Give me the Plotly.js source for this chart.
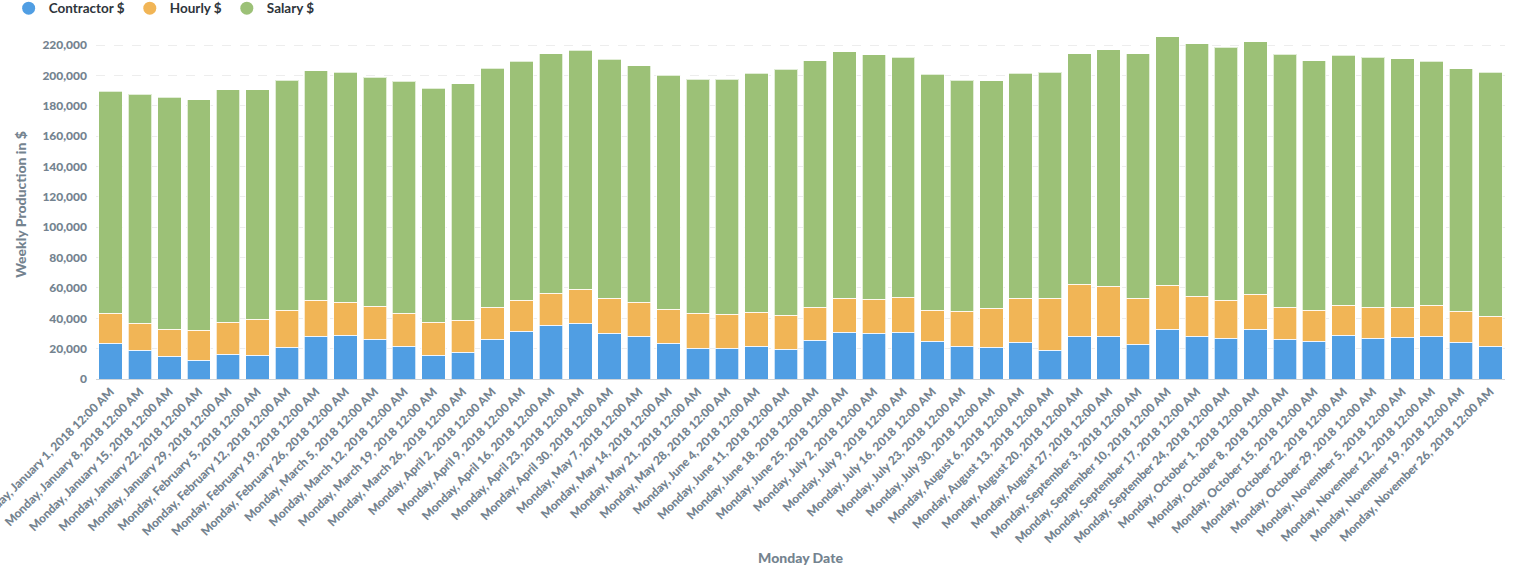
<!DOCTYPE html>
<html>
<head>
<meta charset="utf-8">
<script src="https://cdn.plot.ly/plotly-3.0.1.min.js"></script>
<style>
  html, body { margin: 0; padding: 0; background: #fff; }
  #plot { width: 1514px; height: 574px; }
</style>
</head>
<body>
<div id="plot"></div>
<script>
(function () {
  "use strict";

  // Mondays of 2018, Jan 1 .. Nov 26
  const weekMonths = [
    "January", "January", "January", "January", "January",
    "February", "February", "February", "February",
    "March", "March", "March", "March",
    "April", "April", "April", "April", "April",
    "May", "May", "May", "May",
    "June", "June", "June", "June",
    "July", "July", "July", "July", "July",
    "August", "August", "August", "August",
    "September", "September", "September", "September",
    "October", "October", "October", "October", "October",
    "November", "November", "November", "November",
  ];
  const weekDays = [
    1, 8, 15, 22, 29,
    5, 12, 19, 26,
    5, 12, 19, 26,
    2, 9, 16, 23, 30,
    7, 14, 21, 28,
    4, 11, 18, 25,
    2, 9, 16, 23, 30,
    6, 13, 20, 27,
    3, 10, 17, 24,
    1, 8, 15, 22, 29,
    5, 12, 19, 26,
  ];
  const labels = weekMonths.map((m, i) =>
    `Monday, ${m} ${weekDays[i]}, 2018 12:00 AM`);

  // Values (in $)
  const contractor = [
    23500, 18900, 14900, 12300, 16200, 15600, 20800, 28100, 28700, 26100,
    21500, 15600, 17500, 26100, 31400, 35300, 36600, 30000, 28100, 23500,
    20200, 20200, 21500, 19500, 25400, 30700, 30000, 30700, 24800, 21500,
    20800, 24100, 18900, 28100, 28100, 22800, 32700, 28100, 26800, 32700,
    26100, 24800, 28900, 26800, 27400, 28100, 24100, 21500,
  ];
  const hourly = [
    19900, 18000, 18000, 19900, 21300, 23900, 24400, 23900, 22000, 21900,
    21900, 21900, 21300, 21300, 20600, 21300, 22600, 23300, 22600, 22600,
    23200, 22600, 22600, 22600, 22000, 22600, 22600, 23300, 20600, 23300,
    25900, 29200, 34400, 34200, 33100, 30500, 29200, 26500, 25200, 23200,
    21300, 20600, 19800, 20600, 20000, 20600, 20600, 20000,
  ];
  const salary = [
    146100, 150700, 152700, 152000, 153100, 151100, 151600, 151300, 151300, 150700,
    152700, 154000, 155900, 157300, 157300, 157900, 157300, 157300, 155900, 154000,
    154000, 154600, 157300, 161900, 162500, 162500, 161200, 157900, 155300, 152000,
    150000, 148100, 148700, 152200, 155900, 161200, 163800, 166500, 166500, 166500,
    166500, 164500, 164500, 164500, 163800, 160600, 159900, 160500,
  ];

  const COLORS = {
    contractor: "#509ee3",
    hourly: "#f1b556",
    salary: "#9cc177",
    text: "#74838f",
    legend: "#2e353b",
  };
  const FONT = "Lato, 'Open Sans', sans-serif";

  const series = [
    { name: "Contractor $", y: contractor, color: COLORS.contractor },
    { name: "Hourly $", y: hourly, color: COLORS.hourly },
    { name: "Salary $", y: salary, color: COLORS.salary },
  ];

  const traces = [];
  series.forEach((s) => {
    traces.push({
      type: "bar", name: s.name, x: labels, y: s.y,
      marker: { color: s.color, line: { color: "rgba(255,255,255,0.7)", width: 1 } },
      showlegend: false,
      hovertemplate: "%{x}<br>" + s.name + ": %{y:,}<extra></extra>",
    });
  });
  // Circle legend markers via empty scatter traces
  series.forEach((s) => {
    traces.push({
      type: "scatter", mode: "markers", name: s.name,
      x: [null], y: [null],
      marker: { color: s.color, size: 13, symbol: "circle" },
      showlegend: true, hoverinfo: "skip",
    });
  });

  const tickFont = { family: FONT, size: 12, color: COLORS.text, weight: 900 };
  const titleFont = { family: FONT, size: 14, color: COLORS.text, weight: 900 };

  const layout = {
    width: 1514, height: 574,
    barmode: "stack",
    bargap: 0.2,
    margin: { l: 96, r: 9, t: 30, b: 195, autoexpand: false },
    paper_bgcolor: "#fff",
    plot_bgcolor: "#fff",
    font: { family: FONT, color: COLORS.text },
    showlegend: true,
    legend: {
      orientation: "h", traceorder: "normal",
      x: -0.062, xanchor: "left", y: 1.062, yanchor: "middle",
      font: { family: FONT, size: 13.5, color: COLORS.legend, weight: 700 },
      itemwidth: 30, tracegroupgap: 0,
    },
    xaxis: {
      type: "category",
      tickangle: -45,
      tickfont: tickFont,
      showline: true, linecolor: "#cfd4d8", linewidth: 1,
      ticks: "", showgrid: false,
      title: { text: "Monday Date", standoff: 7, font: titleFont },
    },
    yaxis: {
      range: [0, 230000],
      tickvals: [0, 20000, 40000, 60000, 80000, 100000, 120000, 140000, 160000, 180000, 200000, 220000],
      tickformat: ",d",
      tickfont: tickFont,
      gridcolor: "#ededed", griddash: "dash", gridwidth: 1,
      zeroline: false, showline: false, ticks: "",
      ticklabelstandoff: 8,
      title: { text: "Weekly Production in $", standoff: 12, font: titleFont },
    },
  };

  Plotly.newPlot("plot", traces, layout, { displayModeBar: false, staticPlot: true });
})();
</script>
</body>
</html>
